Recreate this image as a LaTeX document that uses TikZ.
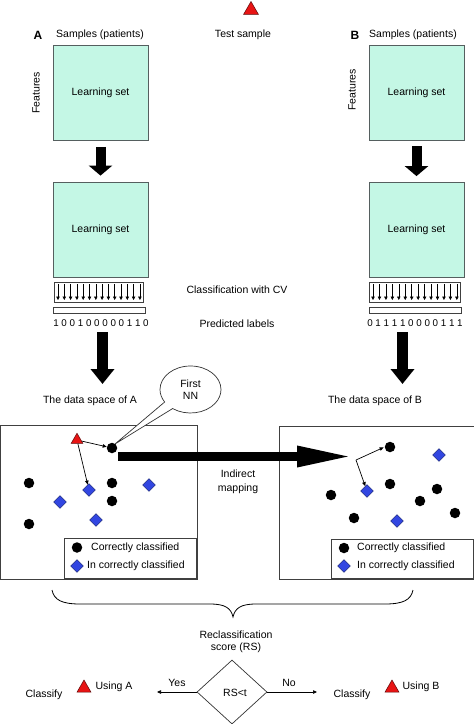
\documentclass[tikz,border=0pt]{standalone}
\usepackage{fontspec}
\setmainfont{Liberation Sans}
\usetikzlibrary{arrows.meta,shapes.geometric,shapes.callouts}
\definecolor{mint}{RGB}{196,247,229}
\definecolor{boxline}{RGB}{85,95,95}
\definecolor{dia}{RGB}{50,70,225}
\definecolor{tri}{RGB}{232,20,20}
\begin{document}
\begin{tikzpicture}[x=1pt,y=-1pt,
  every node/.style={font=\fontsize{10.5}{12.5}\selectfont, inner sep=0pt},
  lset/.style={draw=boxline, line width=0.8pt, fill=mint, minimum width=95pt, minimum height=95pt},
  frame/.style={draw=black!75, line width=0.7pt},
  dot/.style={circle, fill=black, minimum size=10.5pt},
  dmd/.style={diamond, fill=dia, draw=dia!45!black, line width=0.4pt, minimum width=13pt, minimum height=13pt},
  rtri/.style={regular polygon, regular polygon sides=3, fill=tri, draw=tri!40!black, line width=0.5pt, minimum size=#1},
  rtri/.default=14pt,
  bigarrow/.style={line width=#1, draw=black},
  thin arrow/.style={line width=0.7pt, -{Triangle[length=4pt,width=3.5pt]}},
  cvarrow/.style={line width=0.5pt, -{Triangle[length=3.5pt,width=3.5pt]}},
  decarrow/.style={line width=0.7pt, -{Triangle[length=4pt,width=3.5pt]}}
]
\useasboundingbox (0,0) rectangle (474,724);

% ---------- top labels ----------
\node[font=\fontsize{12}{14}\selectfont\bfseries] (labA) at (38,35) {A};
\node (sampA) at (100,35) {Samples (patients)};
\node[rtri=17pt] (testtri) at (251,10) {};
\node (testlab) at (243,35) {Test sample};
\node[font=\fontsize{12}{14}\selectfont\bfseries] (labB) at (355,35) {B};
\node (sampB) at (413,35) {Samples (patients)};
\node[rotate=90] (featA) at (36,93) {Features};
\node[rotate=90] (featB) at (352,90) {Features};

% ---------- learning sets ----------
\node[lset] (lsA1) at (100.5,93) {Learning set};
\node[lset] (lsA2) at (100.5,229.5) {Learning set};
\node[lset] (lsB1) at (416.5,92.5) {Learning set};
\node[lset] (lsB2) at (416.5,230) {Learning set};

\draw[bigarrow=10pt, -{Triangle[length=10pt,width=23pt]}, shorten <=6pt, shorten >=6pt] (lsA1) -- (lsA2);
\draw[bigarrow=10pt, -{Triangle[length=10pt,width=23pt]}, shorten <=6pt, shorten >=6pt] (lsB1) -- (lsB2);

% ---------- CV boxes ----------
\node[frame, minimum width=89pt, minimum height=20pt] (cvA) at (98.5,292) {};
\node[frame, minimum width=91pt, minimum height=20pt] (cvB) at (414.5,292) {};
\foreach \i in {0,...,13}{
  \coordinate (ca\i) at ({58+\i*6.3},284);
  \coordinate (cb\i) at ({373+\i*6.45},284);
  \draw[cvarrow] (ca\i) -- ++(0,16);
  \draw[cvarrow] (cb\i) -- ++(0,16);
}
\node[frame, minimum width=92pt, minimum height=6pt] (barA) at (99,310) {};
\node[frame, minimum width=92pt, minimum height=6pt] (barB) at (415,310) {};
\node (cvlab) at (237,290) {Classification with CV};
\node (predlab) at (237,324) {Predicted labels};
\node[font=\fontsize{9.8}{12}\selectfont] (labelsA) at (101,323) {1 0 0 1 0 0 0 0 0 1 1 0};
\node[font=\fontsize{9.8}{12}\selectfont] (labelsB) at (415,323) {0 1 1 1 1 0 0 0 0 1 1 1};

\coordinate (a2s) at (102.5,332);
\coordinate (a2e) at (102.5,384);
\coordinate (b2s) at (402.5,332);
\coordinate (b2e) at (402.5,384);
\draw[bigarrow=11pt, -{Triangle[length=15pt,width=23pt]}] (a2s) -- (a2e);
\draw[bigarrow=11pt, -{Triangle[length=15pt,width=23pt]}] (b2s) -- (b2e);

\node (dsAlab) at (90,401) {The data space of A};
\node (dsBlab) at (375,401) {The data space of B};

% ---------- data space A ----------
\node[frame, anchor=north west, minimum width=196.5pt, minimum height=154pt] (dsA) at (0.5,425) {};
\node[frame, anchor=south east, minimum width=132pt, minimum height=40pt] (legA) at (197,579) {};
\node[dot] (dA1) at (112,448) {};
\node[dot] (dA2) at (29,483) {};
\node[dot] (dA3) at (112,483) {};
\node[dot] (dA4) at (112,501) {};
\node[dot] (dA5) at (29,524) {};
\node[dmd] (mA1) at (89,490) {};
\node[dmd] (mA2) at (60,502) {};
\node[dmd] (mA3) at (149,485) {};
\node[dmd] (mA4) at (96,520) {};
\node[rtri=13.5pt] (tA) at (77,440) {};
\draw[thin arrow] (tA) -- (dA1);
\draw[thin arrow] (tA) -- (mA1);
\node[dot] (lgAd) at (77,547.5) {};
\node[anchor=west] (lgAt1) at (91,548) {Correctly classified};
\node[dmd] (lgAm) at (77,566) {};
\node[anchor=west] (lgAt2) at (87,566) {In correctly classified};

\node[ellipse callout, draw=black!80, line width=0.7pt, fill=white, minimum width=61pt, minimum height=47pt,
      callout absolute pointer={(115,444)}, callout pointer arc=22, align=center] (nn) at (190.5,389.5) {First\\NN};

% ---------- data space B ----------
\node[frame, anchor=north west, minimum width=194.5pt, minimum height=153pt] (dsB) at (279,426) {};
\node[frame, anchor=south east, minimum width=141.5pt, minimum height=39pt] (legB) at (473.5,579) {};
\node[dot] (dB1) at (390,447) {};
\node[dot] (dB2) at (390,484) {};
\node[dot] (dB3) at (331,495) {};
\node[dot] (dB4) at (437,489) {};
\node[dot] (dB5) at (420,501) {};
\node[dot] (dB6) at (354,518) {};
\node[dot] (dB7) at (455,513) {};
\node[dmd] (mB1) at (439,455) {};
\node[dmd] (mB2) at (367,491) {};
\node[dmd] (mB3) at (397,521) {};
\coordinate (mapB) at (356,460);
\draw[thin arrow, shorten >=1pt] (mapB) -- (dB1.west);
\draw[thin arrow] (mapB) -- (mB2);
\node[dot] (lgBd) at (344,548) {};
\node[anchor=west] (lgBt1) at (357,548) {Correctly classified};
\node[dmd] (lgBm) at (344,566) {};
\node[anchor=west] (lgBt2) at (357,566) {In correctly classified};

% ---------- indirect mapping ----------
\coordinate (hstart) at (118,456.5);
\coordinate (hend) at (354,456.5);
\draw[bigarrow=9pt, -{Triangle[length=57pt,width=19pt]}] (hstart) -- (hend);
\node[align=center, font=\fontsize{10.5}{13.5}\selectfont] (imlab) at (238,482) {Indirect\\mapping};

% ---------- brace ----------
\coordinate (brL) at (52,590);
\coordinate (brR) at (413,590);
\coordinate (brT) at (233,617);
\draw[line width=0.8pt] (brL) .. controls (54,600) and (62,604) .. (80,604)
  -- (210,604) .. controls (225,604) and (231,608) .. (brT)
  .. controls (235,608) and (241,604) .. (256,604)
  -- (385,604) .. controls (403,604) and (411,600) .. (brR);

\node[align=center, font=\fontsize{10.5}{12}\selectfont] (rslab) at (236,642) {Reclassification\\score (RS)};

% ---------- decision ----------
\node[diamond, draw=black!80, line width=0.7pt, minimum width=70pt, minimum height=64pt] (dec) at (232,692) {};
\node (declab) at (235,693) {RS<t};
\coordinate (yesend) at (157,692);
\coordinate (noend) at (317,692);
\draw[decarrow] (dec.west) -- (yesend);
\draw[decarrow] (dec.east) -- (noend);
\node (yes) at (177,683) {Yes};
\node (no) at (289,683) {No};

\node (clA) at (44,695) {Classify};
\node[rtri=16pt] (tcA) at (84,688) {};
\node (useA) at (114,687) {Using A};
\node (clB) at (352,695) {Classify};
\node[rtri=16pt] (tcB) at (392,688) {};
\node (useB) at (421,687) {Using B};
\end{tikzpicture}
\end{document}
